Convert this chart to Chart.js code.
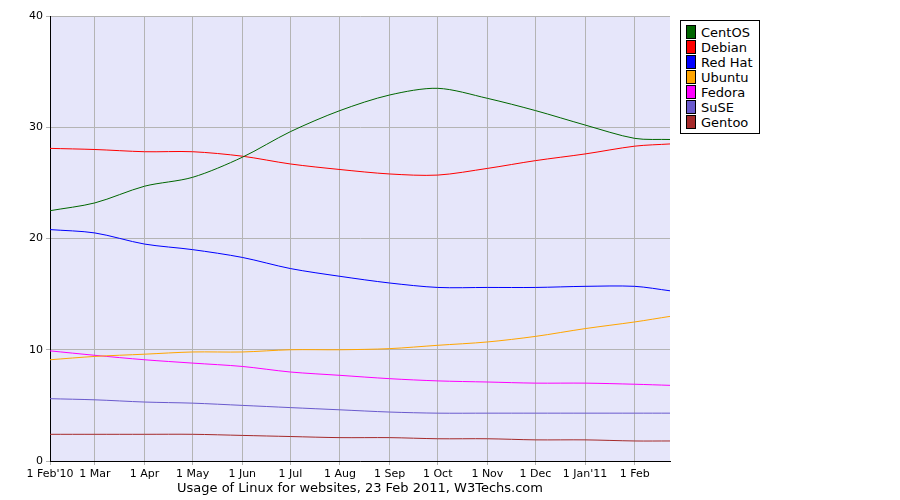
<!DOCTYPE html>
<html>
<head>
<meta charset="utf-8">
<script src="https://cdn.jsdelivr.net/npm/chart.js@4/dist/chart.umd.min.js"></script>
<style>
body { margin: 0; background: #fff; font-family: "DejaVu Sans", sans-serif; }
#wrap { position: relative; width: 900px; height: 500px; }
#c { position: absolute; left: 0; top: 0; }
#legend { position: absolute; left: 680px; top: 20px; border: 1px solid #000; padding: 4px 6px 3px 5px; font-size: 13px; background: #fff; }
#legend div { height: 15px; line-height: 15px; }
#legend span { display: inline-block; width: 8px; height: 12px; border: 1px solid #000; margin-right: 5px; vertical-align: -2px; }
</style>
</head>
<body>
<div id="wrap">
<canvas id="c" width="680" height="500"></canvas>
<div id="legend"></div>
</div>
<script>
// --- DATA ---
const dayOffsets = [0, 28, 59, 89, 120, 150, 181, 212, 242, 273, 303, 334, 365, 387];
const tickLabels = ["1 Feb'10", "1 Mar", "1 Apr", "1 May", "1 Jun", "1 Jul", "1 Aug", "1 Sep", "1 Oct", "1 Nov", "1 Dec", "1 Jan'11", "1 Feb"];
const seriesNames = ["CentOS", "Debian", "Red Hat", "Ubuntu", "Fedora", "SuSE", "Gentoo"];
const centos = [22.5, 23.2, 24.7, 25.5, 27.3, 29.6, 31.5, 32.9, 33.5, 32.6, 31.5, 30.2, 29.0, 28.9];
const debian = [28.1, 28.0, 27.8, 27.8, 27.4, 26.7, 26.2, 25.8, 25.7, 26.3, 27.0, 27.6, 28.3, 28.5];
const redhat = [20.8, 20.5, 19.5, 19.0, 18.3, 17.3, 16.6, 16.0, 15.6, 15.6, 15.6, 15.7, 15.7, 15.3];
const ubuntu = [9.1, 9.4, 9.6, 9.8, 9.8, 10.0, 10.0, 10.1, 10.4, 10.7, 11.2, 11.9, 12.5, 13.0];
const fedora = [9.9, 9.5, 9.1, 8.8, 8.5, 8.0, 7.7, 7.4, 7.2, 7.1, 7.0, 7.0, 6.9, 6.8];
const suse = [5.6, 5.5, 5.3, 5.2, 5.0, 4.8, 4.6, 4.4, 4.3, 4.3, 4.3, 4.3, 4.3, 4.3];
const gentoo = [2.4, 2.4, 2.4, 2.4, 2.3, 2.2, 2.1, 2.1, 2.0, 2.0, 1.9, 1.9, 1.8, 1.8];
const colors = ["#006600", "#ff0000", "#0000ff", "#ffa500", "#ff00ff", "#6a5acd", "#a52a2a"];
const allSeries = [centos, debian, redhat, ubuntu, fedora, suse, gentoo];

// --- LEGEND ---
document.getElementById('legend').innerHTML = seriesNames.map((n, i) =>
    `<div><span style="background:${colors[i]}"></span>${n}</div>`).join('');

// --- PLOT BACKGROUND ---
const plotBg = {
    id: 'plotBg',
    beforeDraw(chart) {
        const { ctx, chartArea: a } = chart;
        ctx.save();
        ctx.fillStyle = '#e6e6fa';
        ctx.fillRect(a.left, a.top, a.right - a.left, a.bottom - a.top);
        ctx.restore();
    }
};

new Chart(document.getElementById('c'), {
    type: 'line',
    data: {
        datasets: allSeries.map((s, i) => ({
            label: seriesNames[i],
            data: s.map((v, j) => ({ x: dayOffsets[j], y: v })),
            borderColor: colors[i],
            borderWidth: 1,
            pointRadius: 0,
            tension: 0.3,
            fill: false
        }))
    },
    options: {
        responsive: false,
        animation: false,
        layout: { padding: { top: 16, right: 10, left: 0, bottom: 0 } },
        plugins: { legend: { display: false }, tooltip: { enabled: false } },
        scales: {
            x: {
                type: 'linear', min: 0, max: 387,
                afterBuildTicks: ax => { ax.ticks = dayOffsets.slice(0, 13).map(v => ({ value: v })); },
                afterFit: ax => { ax.height = 39; },
                ticks: {
                    autoSkip: false, maxRotation: 0, color: '#000',
                    font: { family: 'DejaVu Sans', size: 11 },
                    callback: (v) => { const i = dayOffsets.indexOf(v); return i >= 0 && i < 13 ? tickLabels[i] : ''; }
                },
                grid: { color: '#b4b4b4', tickLength: 4 },
                border: { color: '#000' },
                title: { display: true, text: 'Usage of Linux for websites, 23 Feb 2011, W3Techs.com', color: '#000', font: { family: 'DejaVu Sans', size: 13 }, padding: { top: 2 } }
            },
            y: {
                min: 0, max: 40,
                afterFit: ax => { ax.width = 50; },
                ticks: { stepSize: 10, color: '#000', font: { family: 'DejaVu Sans', size: 11 } },
                grid: { color: '#b4b4b4', tickLength: 4 },
                border: { color: '#000' }
            }
        }
    },
    plugins: [plotBg]
});
</script>
</body>
</html>
